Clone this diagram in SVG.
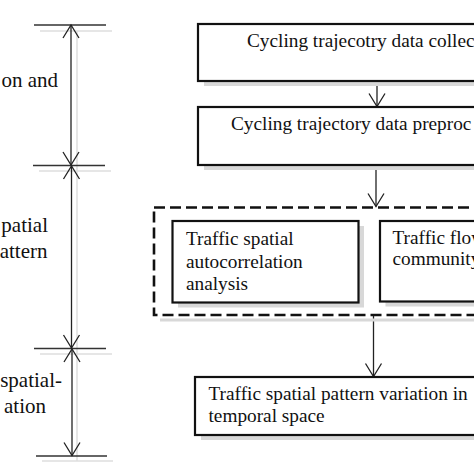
<svg xmlns="http://www.w3.org/2000/svg" width="474" height="474" viewBox="0 0 474 474">
<style>
  .t{font-family:"Liberation Serif","Times New Roman",serif;font-size:19.3px;fill:#111}
  .lt{font-family:"Liberation Serif","Times New Roman",serif;font-size:21px;fill:#111}
  .box{fill:#fff;stroke:#111;stroke-width:2.2}
  .shd{fill:#d8d8d8}
  .dash{fill:none;stroke:#111;stroke-width:2.6;stroke-dasharray:11 5}
  .con{fill:none;stroke:#222;stroke-width:1.3}
  .tick{fill:none;stroke:#333;stroke-width:1.5}
  .gs{fill:none;stroke:#dedede;stroke-width:1.5}
</style>
<defs>
  <marker id="ah" markerUnits="userSpaceOnUse" markerWidth="16" markerHeight="20" viewBox="-14 -10 16 20" refX="0" refY="0" orient="auto-start-reverse">
    <path d="M-13,-8 L0,0 L-13,8" fill="none" stroke="#222" stroke-width="1.3"/>
  </marker>
</defs>
<rect width="474" height="474" fill="#fff"/>

<g id="scale-shadow">
  <line class="gs" x1="40" y1="31" x2="112" y2="31"/>
  <line class="gs" x1="39" y1="171" x2="111" y2="171"/>
  <line class="gs" x1="40" y1="354" x2="112" y2="354"/>
  <line class="gs" x1="42" y1="461" x2="113" y2="461"/>
  <line class="gs" x1="77" y1="31" x2="77" y2="461"/>
</g>

<g id="scale-ticks">
  <line class="tick" x1="34" y1="25" x2="106" y2="25"/>
  <line class="tick" x1="33" y1="165.5" x2="105" y2="165.5"/>
  <line class="tick" x1="34" y1="348.5" x2="106" y2="348.5"/>
  <line class="tick" x1="36" y1="456" x2="107" y2="456"/>
</g>

<g id="connectors">
  <line class="con" x1="71" y1="25" x2="71" y2="165" marker-start="url(#ah)" marker-end="url(#ah)"/>
  <line class="con" x1="71.5" y1="166" x2="71.5" y2="348" marker-start="url(#ah)" marker-end="url(#ah)"/>
  <line class="con" x1="72" y1="349" x2="72" y2="455.5" marker-start="url(#ah)" marker-end="url(#ah)"/>
  <line class="con" x1="377" y1="81" x2="377" y2="106.5" marker-end="url(#ah)"/>
  <line class="con" x1="376" y1="165" x2="376" y2="206.5" marker-end="url(#ah)"/>
  <line class="con" x1="373.5" y1="315" x2="373.5" y2="376.5" marker-end="url(#ah)"/>
</g>

<g id="label-stage1">
  <text class="lt" x="58" y="87" text-anchor="end">on and</text>
</g>
<g id="label-stage2">
  <text class="lt" x="48" y="231.5" text-anchor="end">patial</text>
  <text class="lt" x="47.5" y="257.5" text-anchor="end">attern</text>
</g>
<g id="label-stage3">
  <text class="lt" x="62" y="387" text-anchor="end">spatial-</text>
  <text class="lt" x="46" y="413" text-anchor="end">ation</text>
</g>

<g id="node-collection">
  <rect class="shd" x="204" y="29" width="290" height="57"/>
  <rect class="box" x="198" y="24" width="290" height="57"/>
  <text class="t" x="247" y="46.5">Cycling trajecotry data collec</text>
</g>

<g id="node-preprocessing">
  <rect class="shd" x="204" y="112" width="290" height="58"/>
  <rect class="box" x="198" y="107" width="290" height="58"/>
  <text class="t" x="231" y="130">Cycling trajectory data preproc</text>
</g>

<g id="group-analysis">
  <line x1="160" y1="320" x2="474" y2="320" stroke="#d8d8d8" stroke-width="3"/>
  <rect class="dash" x="154" y="207.5" width="340" height="107.5"/>
</g>

<g id="node-autocorrelation">
  <rect class="shd" x="178" y="226" width="186" height="81.5"/>
  <rect class="box" x="172.5" y="221" width="186" height="81.5"/>
  <text class="t" x="186" y="245">Traffic spatial</text>
  <text class="t" x="186" y="267.5">autocorrelation</text>
  <text class="t" x="186" y="290">analysis</text>
</g>

<g id="node-community">
  <rect class="shd" x="385.5" y="226" width="120" height="80.5"/>
  <rect class="box" x="380" y="221" width="120" height="80.5"/>
  <text class="t" x="392.5" y="244">Traffic flow</text>
  <text class="t" x="392.5" y="265">community</text>
</g>

<g id="node-variation">
  <rect class="shd" x="201" y="382" width="290" height="58"/>
  <rect class="box" x="195" y="377" width="290" height="58"/>
  <text class="t" x="208.5" y="400">Traffic spatial pattern variation in</text>
  <text class="t" x="208.5" y="422">temporal space</text>
</g>
</svg>
